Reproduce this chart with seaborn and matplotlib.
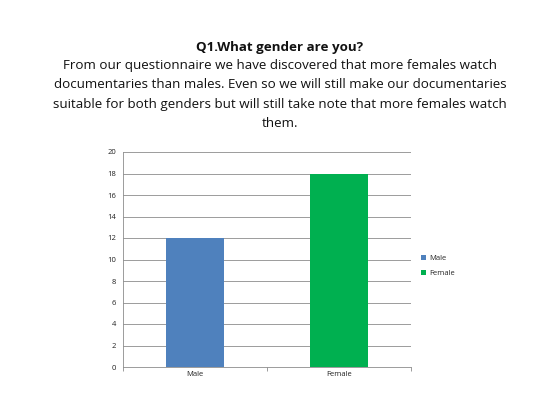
import matplotlib
matplotlib.use("Agg")
import matplotlib.pyplot as plt
import seaborn as sns
import pandas as pd

categories = ["Male", "Female"]
counts = [12, 18]
colors = ["#4F81BD", "#00B050"]
yticks = [0, 2, 4, 6, 8, 10, 12, 14, 16, 18, 20]

sns.set_theme(style="white")
plt.rcParams['font.family'] = ['Open Sans', 'DejaVu Sans']

df = pd.DataFrame({"Gender": categories, "Count": counts})

fig = plt.figure(figsize=(5.6, 4.2), dpi=100)
ax = fig.add_axes([123/560, 1 - 367/420, (411-123)/560, (367-152)/420])

sns.barplot(data=df, x="Gender", y="Count", hue="Gender", palette=colors,
            order=categories, hue_order=categories, width=0.4, dodge=False,
            saturation=1, ax=ax, legend=True, linewidth=0)

ax.set_xlim(-0.5, 1.5)
ax.set_ylim(0, 20)
ax.set_yticks(yticks)
ax.set_yticklabels([str(v) for v in yticks], fontsize=5.5)
ax.set_xticks([0, 1])
ax.set_xticklabels(categories, fontsize=5.5)
ax.set_xlabel("")
ax.set_ylabel("")
ax.yaxis.grid(True, color="#8c8c8c", linewidth=0.6)
ax.set_axisbelow(True)
for s in ["top", "right"]:
    ax.spines[s].set_visible(False)
for s in ["left", "bottom"]:
    ax.spines[s].set_color("#8c8c8c")
    ax.spines[s].set_linewidth(0.6)
ax.tick_params(axis="y", length=3, width=0.6, color="#8c8c8c", pad=2, labelcolor="#222222")
ax.tick_params(axis="x", length=0, pad=3, labelcolor="#222222")
ax.set_xticks([-0.5, 0.5, 1.5], minor=True)
ax.tick_params(axis="x", which="minor", length=3, width=0.6, color="#8c8c8c", bottom=True)

leg = ax.legend(loc="center left", bbox_to_anchor=(1.01, 0.47), frameon=False,
                fontsize=5.5, handlelength=0.7, handleheight=0.7, handletextpad=0.4,
                labelspacing=1.0)

fig.text(0.5, 1 - 48/420, "Q1.What gender are you?", ha="center", va="center",
         fontsize=9.65, fontweight="bold", color="#111111")
body = ("From our questionnaire we have discovered that more females watch\n"
        "documentaries than males. Even so we will still make our documentaries\n"
        "suitable for both genders but will still take note that more females watch\n"
        "them.")
fig.text(0.5, 1 - 59/420, body, ha="center", va="top", fontsize=9.65,
         color="#111111", linespacing=1.63)

fig.savefig("out.png", dpi=100)
